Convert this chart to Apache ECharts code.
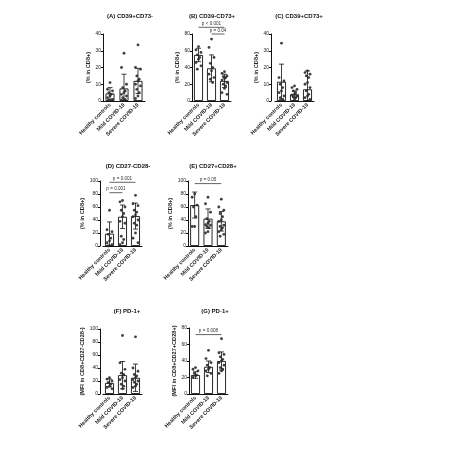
<!DOCTYPE html>
<html style="height: 100%;">
<head>
<meta charset="utf-8">
<script type="text/javascript" src="https://cdn.jsdelivr.net/npm/echarts/dist/echarts.min.js"></script>
</head>
<body style="height: 100%; margin: 0; background-color: #fff;">
<div id="container" style="width: 474px; height: 460px;"></div>
<script type="text/javascript">
var groups = ['Healthy controls', 'Mild COVID-19', 'Severe COVID-19'];

// (A) CD39+CD73-
var aMean = [4.5, 7.5, 12];
var aSd = [3.5, 8.5, 7.5];
var aPts = [
    [11, 7, 6, 5, 4, 3, 2, 1, 0.5],
    [28.5, 20, 10, 8, 6, 5, 4, 3, 2, 1, 0.5, 0.5],
    [33.5, 20, 19, 15, 13, 12, 10, 9, 7, 5, 3, 1.5]
];
// (B) CD39-CD73+
var bMean = [55, 39, 24];
var bSd = [8, 16, 8];
var bPts = [
    [65, 61, 58, 55, 52, 50, 46, 42, 38],
    [74, 64, 52, 45, 40, 36, 32, 28, 26, 22],
    [35, 33, 30, 29, 28, 27, 25, 22, 20, 18, 15, 10, 8]
];
// (C) CD39+CD73+
var cMean = [11.5, 4, 7];
var cSd = [10.5, 2, 11];
var cPts = [
    [34.5, 14, 12, 10, 8, 6, 5, 3, 2, 1],
    [9, 8, 7, 6, 5, 4, 3.5, 3, 2.5, 2, 1],
    [18, 17, 16, 15, 14, 11, 10, 8, 6, 4, 3, 2, 1]
];
// (D) CD27-CD28-
var dMean = [19, 45, 46];
var dSd = [18, 18, 20];
var dPts = [
    [55, 25, 22, 18, 12, 8, 5, 2, 0],
    [70, 68, 60, 55, 50, 45, 38, 35, 15, 10, 5, 2],
    [78, 65, 62, 55, 52, 48, 45, 40, 35, 32, 20, 12, 5]
];
// (E) CD27+CD28+
var eMean = [63, 42, 38];
var eSd = [20, 15, 15];
var ePts = [
    [80, 75, 63, 60, 45, 30, 30],
    [75, 65, 52, 42, 38, 35, 33, 32, 30, 28, 22, 20],
    [72, 60, 55, 50, 45, 40, 38, 32, 30, 28, 25, 22, 18, 15]
];
// (F) PD-1+ in CD8+CD27-CD28-
var fMean = [17, 29, 25];
var fSd = [6, 21, 21];
var fPts = [
    [25, 23, 20, 18, 15, 12, 10, 8],
    [90, 48, 38, 32, 30, 25, 22, 20, 15, 12, 8],
    [88, 40, 35, 30, 28, 25, 22, 20, 18, 15, 12, 10]
];
// (G) PD-1+ in CD8+CD27+CD28+
var gMean = [23, 33, 40];
var gSd = [4, 7, 11];
var gPts = [
    [32, 30, 28, 25, 23, 22, 20],
    [53, 43, 38, 35, 32, 30, 28, 25, 22],
    [67, 50, 48, 45, 42, 40, 38, 35, 32, 30, 28, 25]
];

// p-value brackets: [from group, to group, level on y axis]
var bBrackets = [[0, 2, 88], [1, 2, 80]];
var bBracketText = ['p < 0.001', 'p = 0.04'];
var dBrackets = [[0, 2, 98], [0, 1, 82]];
var dBracketText = ['p = 0.001', 'p = 0.001'];
var eBrackets = [[0, 2, 96]];
var eBracketText = ['p = 0.05'];
var gBrackets = [[0, 2, 72]];
var gBracketText = ['p = 0.008'];

var panels = [
    {title: '(A) CD39+CD73-', yName: '(% in CD8+)', max: 40, interval: 10, mean: aMean, sd: aSd, pts: aPts, br: [], brText: []},
    {title: '(B) CD39-CD73+', yName: '(% in CD8+)', max: 80, interval: 20, mean: bMean, sd: bSd, pts: bPts, br: bBrackets, brText: bBracketText},
    {title: '(C) CD39+CD73+', yName: '(% in CD8+)', max: 40, interval: 10, mean: cMean, sd: cSd, pts: cPts, br: [], brText: []},
    {title: '(D) CD27-CD28-', yName: '(% in CD8+)', max: 100, interval: 20, mean: dMean, sd: dSd, pts: dPts, br: dBrackets, brText: dBracketText},
    {title: '(E) CD27+CD28+', yName: '(% in CD8+)', max: 100, interval: 20, mean: eMean, sd: eSd, pts: ePts, br: eBrackets, brText: eBracketText},
    {title: '(F) PD-1+', yName: '(MFI in CD8+CD27-CD28-)', max: 100, interval: 20, mean: fMean, sd: fSd, pts: fPts, br: [], brText: []},
    {title: '(G) PD-1+', yName: '(MFI in CD8+CD27+CD28+)', max: 80, interval: 20, mean: gMean, sd: gSd, pts: gPts, br: gBrackets, brText: gBracketText}
];

// pixel layout of each small panel
var layout = [
    {left: 103, top: 34, width: 42, height: 67, off: 0, tx: 125, ty: 8},
    {left: 192, top: 34, width: 39, height: 67, off: 0, tx: 207, ty: 8},
    {left: 275, top: 34, width: 39, height: 67, off: 4, tx: 294, ty: 8},
    {left: 103, top: 181, width: 39, height: 65, off: 3, tx: 123, ty: 158},
    {left: 188, top: 181, width: 40, height: 65, off: 0, tx: 208, ty: 158},
    {left: 103, top: 329, width: 39, height: 65, off: 3, tx: 122, ty: 303},
    {left: 189, top: 328, width: 39, height: 66, off: 0, tx: 210, ty: 303}
];

var jitter = [0, -2.5, 2.5, -1.2, 1.2];

function renderErr(params, api) {
    var lo = api.coord([api.value(0), api.value(1)]);
    var hi = api.coord([api.value(0), api.value(2)]);
    var cap = 2.5;
    var st = {stroke: '#111', lineWidth: 0.8};
    return {type: 'group', children: [
        {type: 'line', shape: {x1: lo[0], y1: lo[1], x2: hi[0], y2: hi[1]}, style: st},
        {type: 'line', shape: {x1: hi[0] - cap, y1: hi[1], x2: hi[0] + cap, y2: hi[1]}, style: st},
        {type: 'line', shape: {x1: lo[0] - cap, y1: lo[1], x2: lo[0] + cap, y2: lo[1]}, style: st}
    ]};
}

function makeBracketRenderer(texts) {
    return function (params, api) {
        var a = api.coord([api.value(0), api.value(2)]);
        var b = api.coord([api.value(1), api.value(2)]);
        return {type: 'group', children: [
            {type: 'line', shape: {x1: a[0], y1: a[1], x2: b[0], y2: b[1]}, style: {stroke: '#222', lineWidth: 0.7}},
            {type: 'text', x: (a[0] + b[0]) / 2, y: a[1] - 1, style: {
                text: texts[params.dataIndex], fill: '#333', fontSize: 4.6,
                fontFamily: 'Liberation Sans', align: 'center', verticalAlign: 'bottom'
            }}
        ]};
    };
}

var option = {
    backgroundColor: '#fff',
    animation: false,
    title: [], grid: [], xAxis: [], yAxis: [], series: []
};

panels.forEach(function (p, i) {
    var L = layout[i];
    option.title.push({
        text: p.title, left: L.tx, top: L.ty, textAlign: 'center',
        textStyle: {fontSize: 6, fontWeight: 'bold', color: '#111', fontFamily: 'Liberation Sans'}
    });
    option.grid.push({
        left: L.left, top: L.top, width: L.width, height: L.height,
        containLabel: false, outerBoundsMode: 'none'
    });
    option.xAxis.push({
        gridIndex: i, type: 'category', data: groups,
        axisLine: {lineStyle: {color: '#111', width: 1}},
        axisTick: {alignWithLabel: true, length: 2.5, lineStyle: {color: '#111'}},
        axisLabel: {
            interval: 0, rotate: 45, margin: 3, fontSize: 5.4, fontWeight: 'bold',
            color: '#222', fontFamily: 'Liberation Sans'
        }
    });
    option.yAxis.push({
        gridIndex: i, type: 'value', min: 0, max: p.max, interval: p.interval, offset: L.off,
        name: p.yName, nameLocation: 'middle', nameRotate: 90, nameGap: 11,
        nameTextStyle: {fontSize: 5.6, fontWeight: 'bold', color: '#222', fontFamily: 'Liberation Sans'},
        splitLine: {show: false},
        axisLine: {show: true, lineStyle: {color: '#111', width: 1}},
        axisTick: {show: true, length: 2, lineStyle: {color: '#111'}},
        axisLabel: {fontSize: 5, margin: 2, color: '#222', fontFamily: 'Liberation Sans'}
    });
    option.series.push({
        type: 'bar', xAxisIndex: i, yAxisIndex: i, data: p.mean, barWidth: 9, z: 1,
        itemStyle: {color: '#fff', borderColor: '#111', borderWidth: 0.9}
    });
    option.series.push({
        type: 'custom', xAxisIndex: i, yAxisIndex: i, z: 3, clip: false,
        renderItem: renderErr,
        data: p.mean.map(function (m, k) {
            return [k, Math.max(0, m - p.sd[k]), m + p.sd[k]];
        })
    });
    var dots = [];
    p.pts.forEach(function (list, k) {
        list.forEach(function (v, j) {
            dots.push({value: [k, v], symbolOffset: [jitter[j % jitter.length], 0]});
        });
    });
    option.series.push({
        type: 'scatter', xAxisIndex: i, yAxisIndex: i, z: 4, data: dots,
        symbol: 'circle', symbolSize: 2.8,
        itemStyle: {color: '#2a2a2a', opacity: 0.9}
    });
    if (p.br.length) {
        option.series.push({
            type: 'custom', xAxisIndex: i, yAxisIndex: i, z: 5, clip: false,
            renderItem: makeBracketRenderer(p.brText),
            encode: {x: [0, 1], y: 2},
            data: p.br
        });
    }
});

var myChart = echarts.init(document.getElementById('container'));
myChart.setOption(option);
</script>
</body>
</html>
